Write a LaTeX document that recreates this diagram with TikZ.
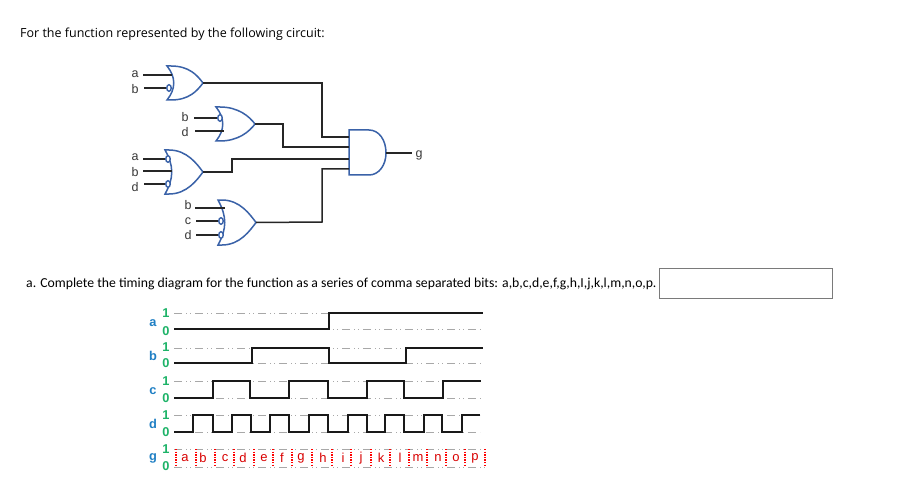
\documentclass[tikz,border=0pt]{standalone}
\usepackage{fontspec}
\usetikzlibrary{shapes.geometric}
\setmainfont{Open Sans}
\newfontfamily\gatefont{Liberation Sans}
\newfontfamily\qfont{Carlito}
\definecolor{gateblue}{HTML}{3A62A8}
\definecolor{wire}{HTML}{262626}
\definecolor{lvlgreen}{HTML}{1DB368}
\definecolor{siglabel}{HTML}{1F7FC4}
\definecolor{guide}{HTML}{A8A8A8}
\definecolor{boxgray}{HTML}{7A7A7A}
\tikzset{x=1pt,y=-1pt,
 wirel/.style={draw=wire,line width=1.5pt},
 gatel/.style={draw=gateblue,line width=1.5pt,fill=white},
 bub/.style={draw=gateblue,line width=1.4pt,fill=white,ellipse,minimum width=4.5pt,minimum height=6.5pt,inner sep=0pt},
 inlab/.style={font=\gatefont\fontsize{12.5}{14}\selectfont,text=black!78,inner sep=0pt},
 prose/.style={font=\fontsize{12.5}{14}\selectfont,text=black,inner sep=0pt,anchor=base west},
 sigl/.style={draw=black!90,line width=1.5pt},
 guidel/.style={draw=guide,line width=.95pt,dash pattern=on 8pt off 4pt on 1pt off 3pt on 1pt off 4pt},
 lvl/.style={font=\gatefont\bfseries\fontsize{12.8}{14}\selectfont,text=lvlgreen,inner sep=0pt},
 sgn/.style={font=\gatefont\bfseries\fontsize{12.8}{14}\selectfont,text=siglabel,inner sep=0pt},
 rl/.style={font=\gatefont\fontsize{13}{14}\selectfont,text=red!85!black,inner sep=0pt},
 rv/.style={draw=red,line width=1.1pt,dash pattern=on 1.3pt off 1.3pt}}
% OR gate: #1 left x, #2 top y, #3 bottom y, #4 tip x, #5 name
\newcommand{\orgate}[5]{%
 \pgfmathsetmacro{\midy}{(#2+#3)/2}%
 \path[gatel] (#1,#2) -- ({#1+4},#2) .. controls ({#1+22},#2) and ({#4-6},{\midy-8}) .. (#4,\midy)
   .. controls ({#4-6},{\midy+8}) and ({#1+22},#3) .. ({#1+4},#3) -- (#1,#3)
   .. controls ({#1+9},{\midy+6}) and ({#1+9},{\midy-6}) .. (#1,#2) -- cycle;
 \coordinate (#5) at (#4,\midy);}
\begin{document}
\begin{tikzpicture}
\useasboundingbox (0,0) rectangle (912,497);
\fill[white] (0,0) rectangle (912,497);
\node[prose] (title) at (20,37.5) {For the function represented by the following circuit:};
\node[prose,font=\qfont\fontsize{13.72}{15}\selectfont] (ques) at (26,287) {a. Complete the timing diagram for the function as a series of comma separated bits: a,b,c,d,e,f,g,h,I,j,k,l,m,n,o,p.};
\node[draw=boxgray,line width=.9pt,minimum width=173pt,minimum height=30pt,inner sep=0pt] (ansbox) at (745.5,283) {};
% input wires
\foreach \nm/\xa/\xb/\yy in {ia1/143/172/75,ib1/144/169/88,ib2/194/220/118,id2/195/224/131,ia3/143/167/159,ib3/143/172/171,id3/144/167/184,ib4/195/225/208,ic4/196/220/221,id4/196/220/235}{
  \coordinate (\nm s) at (\xa,\yy); \coordinate (\nm e) at (\xb,\yy);}
% gates
\orgate{167}{66}{100}{203}{or1}
\orgate{216}{107}{141}{255}{or2}
\orgate{165}{150}{194}{203}{or3}
\orgate{218}{200}{245}{256}{or4}
\foreach \nm in {ia1,ib1,ib2,id2,ia3,ib3,id3,ib4,ic4,id4}{
  \draw[wirel] (\nm s) -- (\nm e);}
% bubbles
\foreach \nm/\xx/\yy in {b1/169/88,b2/220/118,b3/168/159,b4/168/184,b5/221/221,b6/221/235}{
 \node[bub] (\nm) at (\xx,\yy) {};}
% AND
\path[gatel] (349,130) -- (369,130) .. controls (379,130) and (386,140) .. (386,153) .. controls (386,165) and (379,175) .. (369,175) -- (349,175) -- cycle;
\coordinate (and) at (386,153);
\coordinate (j1) at (322,83); \coordinate (j1b) at (322,137); \coordinate (a1) at (349,137);
\coordinate (j2) at (283,124); \coordinate (j2b) at (283,147); \coordinate (a2) at (349,147);
\coordinate (j3) at (232,172); \coordinate (j3b) at (232,159); \coordinate (a3) at (349,159);
\coordinate (j4) at (322,222); \coordinate (j4b) at (322,169); \coordinate (a4) at (349,169);
\coordinate (gout) at (412,153);
\draw[wirel] (or1) -- (j1) -- (j1b) -- (a1);
\draw[wirel] (or2) -- (j2) -- (j2b) -- (a2);
\draw[wirel] (or3) -- (j3) -- (j3b) -- (a3);
\draw[wirel] (or4) -- (j4) -- (j4b) -- (a4);
\draw[wirel] (and) -- (gout);
% input labels
\foreach \nm/\t/\xx/\yy in {la1/a/135/74,lb1/b/135/89,lb2/b/185/117,ld2/d/185/132,la3/a/135/157,lb3/b/135/172,ld3/d/135/187,lb4/b/188/205,lc4/c/188/221,ld4/d/188/235,lg/g/419/155}{
 \node[inlab] (\nm) at (\xx,\yy) {\t};}
% timing guides
\foreach \nm/\yt/\yb/\xe in {a/313/329/483,b/348/363/483,c/381/398/481,d/415/432/480,g/449/467/485}{
 \draw[guidel] (174,\yt) -- (\xe,\yt);
 \draw[guidel] (174,\yb) -- (\xe,\yb);}
% signals
\draw[sigl] (174,329) -| (329,313) -- (483,313);
\draw[sigl] (174,363) -| (252,348) -| (329,363) -| (406,348) -- (483,348);
\draw[sigl] (174,398) -| (213,381) -| (250,398) -| (289,381) -| (328,398) -| (367,381) -| (404,398) -| (443,381) -- (481,381);
\draw[sigl] (174,432) -| (193,415) -| (213,432) -| (232,415) -| (251,432) -| (270,415) -| (289,432) -| (309,415) -| (328,432) -| (348,415) -| (367,432) -| (385,415) -| (404,432) -| (424,415) -| (442,432) -| (462,415) -- (480,415);
% level labels
\foreach \nm/\sg/\yt/\yb/\ym in {a/a/313/331/323,b/b/347/363/356,c/c/381/398/391,d/d/415/432/424,g/g/449/466/458}{
 \node[lvl] (one\nm) at (166,\yt) {1};
 \node[lvl] (zero\nm) at (166,\yb) {0};
 \node[sgn] (sig\nm) at (153,\ym) {\sg};}
% red answers
\foreach \xx in {176,196,215,234,254,273,292,312,332,351,371,390,409,427,446,465,485}{
 \draw[rv] (\xx,449) -- (\xx,466);}
\foreach \nm/\t/\xx in {a/a/185,b/b/203,c/c/225,d/d/243,e/e/264,f/f/282,g/g/301,h/h/323,i/i/343,j/j/361,k/k/381,l/l/400,m/m/418,n/n/438,o/o/456,p/p/475}{
 \node[rl] (ans\nm) at (\xx,458) {\t};}
\end{tikzpicture}
\end{document}
